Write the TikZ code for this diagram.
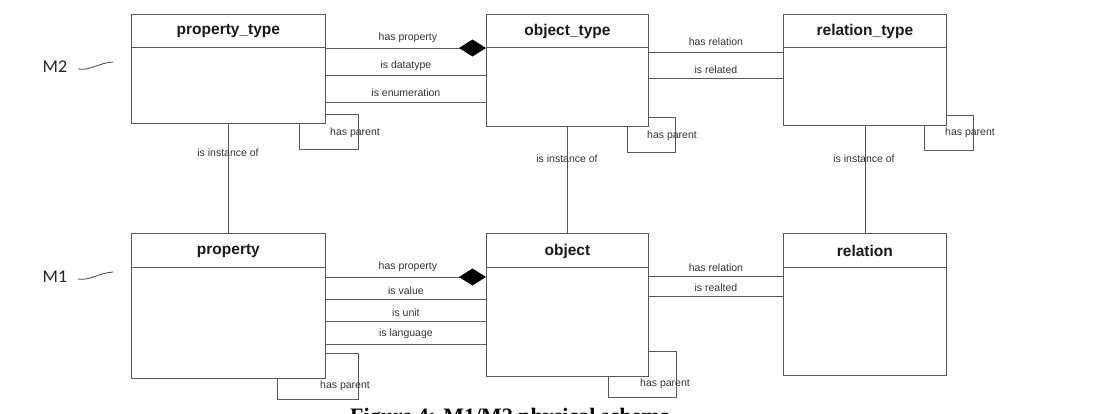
\documentclass[tikz,border=0pt]{standalone}
\usepackage{fontspec}
\setmainfont{Liberation Sans}
\newfontfamily\mfont{Carlito}
\newfontfamily\capfont{Liberation Serif}
\usetikzlibrary{arrows.meta,calc}
\begin{document}
\begin{tikzpicture}[x=1pt,y=-1pt,
  ln/.style={draw=black!65,line width=0.8pt},
  umlbox/.style={ln,rectangle,inner sep=0pt,anchor=north west},
  ttl/.style={font=\fontsize{15.5}{17}\selectfont\bfseries,text=black!90,inner sep=0pt},
  lbl/.style={font=\fontsize{10.5}{12}\selectfont,text=black!80,inner sep=1pt},
  lvl/.style={font=\mfont\fontsize{18}{20}\selectfont,text=black!85,inner sep=0pt},
  comp/.style={ln,-{Diamond[length=27pt,width=17pt,fill=black,line width=0pt]}}]
\useasboundingbox (0,0) rectangle (1105,414);
\clip (0,0) rectangle (1105,414);
\fill[white] (0,0) rectangle (1105,414);
% boxes M2
\node[umlbox,minimum width=194pt,minimum height=109pt] (pt) at (131,14) {};
\node[umlbox,minimum width=162pt,minimum height=112pt] (ot) at (486,14) {};
\node[umlbox,minimum width=163pt,minimum height=111pt] (rt) at (783,14) {};
% boxes M1
\node[umlbox,minimum width=194pt,minimum height=145pt] (p) at (131,233) {};
\node[umlbox,minimum width=162pt,minimum height=143pt] (o) at (486,233) {};
\node[umlbox,minimum width=163pt,minimum height=142pt] (r) at (783,233) {};
% header separators
\foreach \b in {pt,ot,rt}{\draw[ln] ($(\b.north west)+(0,33)$) -- ($(\b.north east)+(0,33)$);}
\foreach \b in {p,o,r}{\draw[ln] ($(\b.north west)+(0,34)$) -- ($(\b.north east)+(0,34)$);}
% titles
\node[ttl] (ptT) at ($(pt.north)+(0,17)$) {property\_type};
\node[ttl] (otT) at ($(ot.north)+(0,17)$) {object\_type};
\node[ttl] (rtT) at ($(rt.north)+(0,17)$) {relation\_type};
\node[ttl] (pT) at ($(p.north)+(0,18)$) {property};
\node[ttl] (oT) at ($(o.north)+(0,18)$) {object};
\node[ttl] (rT) at ($(r.north)+(0,18)$) {relation};
% level labels
\node[lvl] (m2) at (55,67) {M2};
\node[lvl] (m1) at (55,277) {M1};
\coordinate (m2a) at (78,69); \coordinate (m2b) at (113,62);
\coordinate (m1a) at (78,279); \coordinate (m1b) at (113,272);
\draw[black!75,line width=0.8pt] (m2a) .. controls (90,71) and (98,63) .. (m2b);
\draw[black!75,line width=0.8pt] (m1a) .. controls (90,281) and (98,273) .. (m1b);
% M2 associations
\draw[comp] ($(pt.north east)+(0,34)$) -- node[lbl,above=4pt,xshift=2pt]{has property} ($(ot.north west)+(0,34)$);
\draw[ln] ($(pt.north east)+(0,61)$) -- node[lbl,above=3pt]{is datatype} ($(ot.north west)+(0,61)$);
\draw[ln] ($(pt.north east)+(0,88)$) -- node[lbl,above=4pt]{is enumeration} ($(ot.north west)+(0,88)$);
\draw[ln] ($(ot.north east)+(0,38)$) -- node[lbl,above=5pt]{has relation} ($(rt.north west)+(0,38)$);
\draw[ln] ($(ot.north east)+(0,64)$) -- node[lbl,above=3pt]{is related} ($(rt.north west)+(0,64)$);
% M1 associations
\draw[comp] ($(p.north east)+(0,44)$) -- node[lbl,above=4pt,xshift=2pt]{has property} ($(o.north west)+(0,44)$);
\draw[ln] ($(p.north east)+(0,66)$) -- node[lbl,above=3pt]{is value} ($(o.north west)+(0,66)$);
\draw[ln] ($(p.north east)+(0,88)$) -- node[lbl,above=3pt]{is unit} ($(o.north west)+(0,88)$);
\draw[ln] ($(p.north east)+(0,111)$) -- node[lbl,above=4pt]{is language} ($(o.north west)+(0,111)$);
\draw[ln] ($(o.north east)+(0,43)$) -- node[lbl,above=3pt]{has relation} ($(r.north west)+(0,43)$);
\draw[ln] ($(o.north east)+(0,63)$) -- node[lbl,above=3pt]{is realted} ($(r.north west)+(0,63)$);
% instance-of
\draw[ln] (pt.south) -- (p.north);
\draw[ln] (ot.south) -- (o.north);
\draw[ln] (rt.south) -- (r.north);
\node[lbl] (io1) at (228,153) {is instance of};
\node[lbl] (io2) at (567,159) {is instance of};
\node[lbl] (io3) at (864,159) {is instance of};
% self loops
\draw[ln] ($(pt.south east)+(0,-9)$) -- ++(33,0) |- ($(pt.south east)+(-26,26)$) -- ($(pt.south east)+(-26,0)$);
\node[lbl] (hp1) at (355,133) {has parent};
\draw[ln] ($(ot.south east)+(0,-9)$) -- ++(27,0) |- ($(ot.south east)+(-21,26)$) -- ($(ot.south east)+(-21,0)$);
\node[lbl] (hp2) at (672,136) {has parent};
\draw[ln] ($(rt.south east)+(0,-10)$) -- ++(27,0) |- ($(rt.south east)+(-22,25)$) -- ($(rt.south east)+(-22,0)$);
\node[lbl] (hp3) at (970,133) {has parent};
\draw[ln] ($(p.south east)+(0,-25)$) -- ++(33,0) |- ($(p.south east)+(-48,21)$) -- ($(p.south east)+(-48,0)$);
\node[lbl] (hp4) at (345,386) {has parent};
\draw[ln] ($(o.south east)+(0,-25)$) -- ++(28,0) |- ($(o.south east)+(-40,21)$) -- ($(o.south east)+(-40,0)$);
\node[lbl] (hp5) at (665,384) {has parent};
% clipped caption (only its top shows, as in the reference)
\node[font=\capfont\fontsize{22}{24}\selectfont\bfseries,anchor=base west,inner sep=0pt] (cap) at (350,423) {Figure 4: M1/M2 physical schema};
\end{tikzpicture}
\end{document}
